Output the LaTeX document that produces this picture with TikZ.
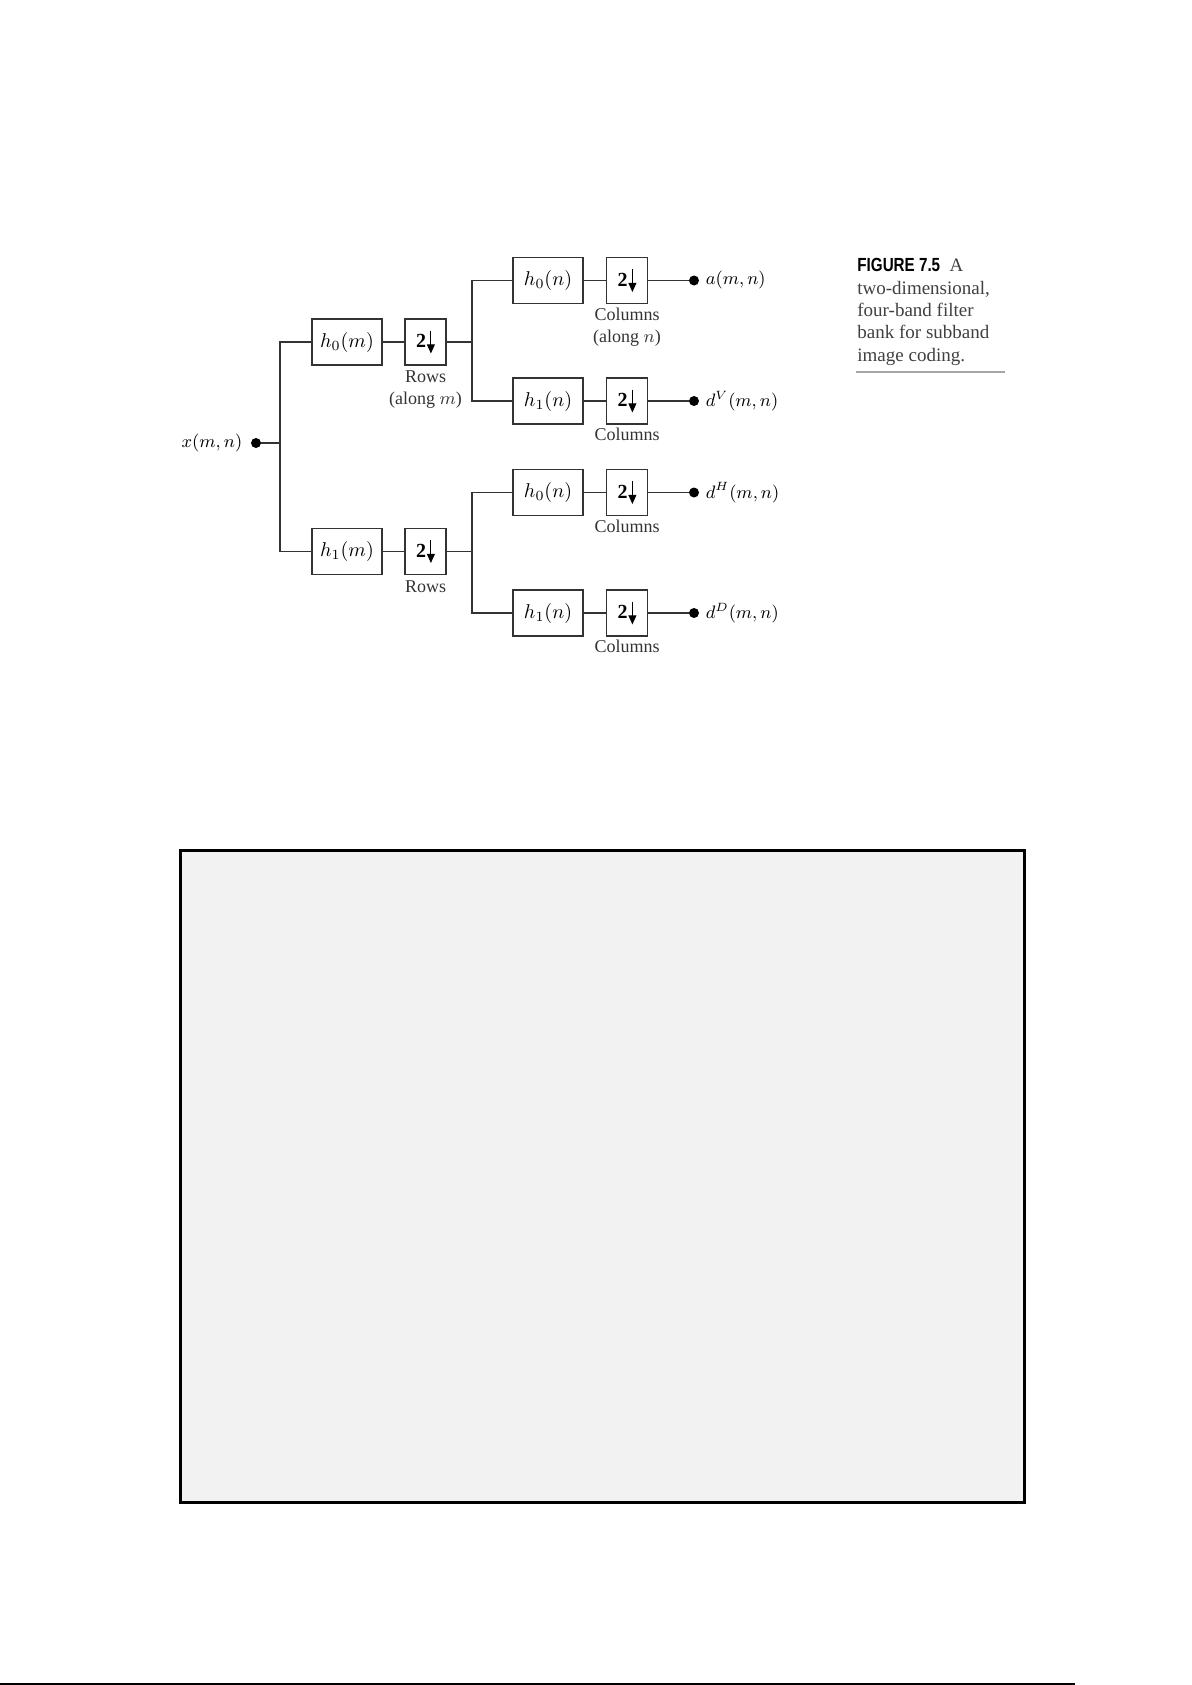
\documentclass[tikz,border=0pt]{standalone}
\usepackage{amsmath,amssymb}
\usepackage{fontspec}
\setmainfont{Liberation Serif}
\newfontfamily\figfont[FakeStretch=0.8]{Liberation Sans}
\usepackage{tikz}
\usetikzlibrary{arrows.meta,positioning,calc}

\definecolor{linecol}{gray}{0.2}
\definecolor{panelgray}{gray}{0.949}

% down-sampling arrow
\newcommand{\dnarr}{\hspace{0.4pt}\tikz[baseline=0pt]\draw[black,line width=0.5pt,-{Triangle[length=4.6pt,width=4pt]}] (0pt,8.5pt) -- (0pt,-3pt);}

\tikzset{
  filt/.style={draw=linecol, line width=0.8pt, minimum width=35pt, minimum height=23pt, inner sep=0pt, font=\fontsize{10}{12}\selectfont},
  dsamp/.style={filt, minimum width=20.5pt},
  tag/.style={font=\fontsize{9}{11}\selectfont, align=center, inner sep=0.5pt, text=black!80},
  lab/.style={font=\fontsize{9}{11}\selectfont, inner sep=0pt},
  sig/.style={circle, fill=black, inner sep=0pt, minimum size=5pt},
  wire/.style={draw=linecol, line width=0.8pt}
}

\begin{document}
\begin{tikzpicture}[x=0.5pt,y=-0.5pt]
    \useasboundingbox (0,0) rectangle (1192,1685);

    % Input
    \node[sig] (xin) at (256,443) {};
    \node[lab, left=4pt of xin] (xlab) {$x(m,n)$};
    \coordinate (s1) at (280,443);

    % Row filters and down-samplers
    \node[filt] (h0m) at (347,342) {$h_0(m)$};
    \node[dsamp] (dm0) at (425.5,342) {\textbf{2}\dnarr};
    \node[tag, below=2pt of dm0] (rows0) {Rows\\(along $m$)};

    \node[filt] (h1m) at (347,551.5) {$h_1(m)$};
    \node[dsamp] (dm1) at (425.5,551.5) {\textbf{2}\dnarr};
    \node[tag, below=2pt of dm1] (rows1) {Rows};

    \coordinate (s2) at (472,342);
    \coordinate (s3) at (472,551.5);

    % Column filters and down-samplers
    \node[filt] (hn00) at (548,280.5) {$h_0(n)$};
    \node[dsamp] (dn00) at (627,280.5) {\textbf{2}\dnarr};
    \node[tag, below=1pt of dn00] (cols00) {Columns\\(along $n$)};

    \node[filt] (hn01) at (548,401) {$h_1(n)$};
    \node[dsamp] (dn01) at (627,401) {\textbf{2}\dnarr};
    \node[tag, below=1pt of dn01] (cols01) {Columns};

    \node[filt] (hn10) at (548,492.5) {$h_0(n)$};
    \node[dsamp] (dn10) at (627,492.5) {\textbf{2}\dnarr};
    \node[tag, below=1pt of dn10] (cols10) {Columns};

    \node[filt] (hn11) at (548,613) {$h_1(n)$};
    \node[dsamp] (dn11) at (627,613) {\textbf{2}\dnarr};
    \node[tag, below=1pt of dn11] (cols11) {Columns};

    % Outputs
    \node[sig] (o00) at (694,280.5) {};
    \node[lab, right=3pt of o00] (a) {$a(m,n)$};
    \node[sig] (o01) at (694,401) {};
    \node[lab, right=3pt of o01] (dv) {$d^V(m,n)$};
    \node[sig] (o10) at (694,492.5) {};
    \node[lab, right=3pt of o10] (dh) {$d^H(m,n)$};
    \node[sig] (o11) at (694,613) {};
    \node[lab, right=3pt of o11] (dd) {$d^D(m,n)$};

    % Wires
    \draw[wire] (xin) -- (s1);
    \draw[wire] (s1) |- (h0m.west);
    \draw[wire] (s1) |- (h1m.west);
    \draw[wire] (h0m) -- (dm0);
    \draw[wire] (h1m) -- (dm1);
    \draw[wire] (dm0.east) -- (s2);
    \draw[wire] (dm1.east) -- (s3);
    \draw[wire] (s2) |- (hn00.west);
    \draw[wire] (s2) |- (hn01.west);
    \draw[wire] (s3) |- (hn10.west);
    \draw[wire] (s3) |- (hn11.west);
    \draw[wire] (hn00) -- (dn00);
    \draw[wire] (hn01) -- (dn01);
    \draw[wire] (hn10) -- (dn10);
    \draw[wire] (hn11) -- (dn11);
    \draw[wire] (dn00) -- (o00);
    \draw[wire] (dn01) -- (o01);
    \draw[wire] (dn10) -- (o10);
    \draw[wire] (dn11) -- (o11);

    % Caption
    \node[anchor=north west, align=left, inner sep=0pt, text=black!75,
          font=\fontsize{9.5}{11.2}\selectfont] (cap) at (857,258)
      {{\figfont\bfseries\color{black}FIGURE 7.5}\ \ A\\two-dimensional,\\four-band filter\\bank for subband\\image coding.};
    \draw[black!35, line width=1pt] (856,372) -- (1005,372);

    % Empty panel
    \draw[line width=1.35pt, fill=panelgray] (180.3,850.3) rectangle (1024.7,1502.7);

    % Page edge
    \draw[line width=0.8pt] (0,1684) -- (1075,1684);
  \end{tikzpicture}
\end{document}
